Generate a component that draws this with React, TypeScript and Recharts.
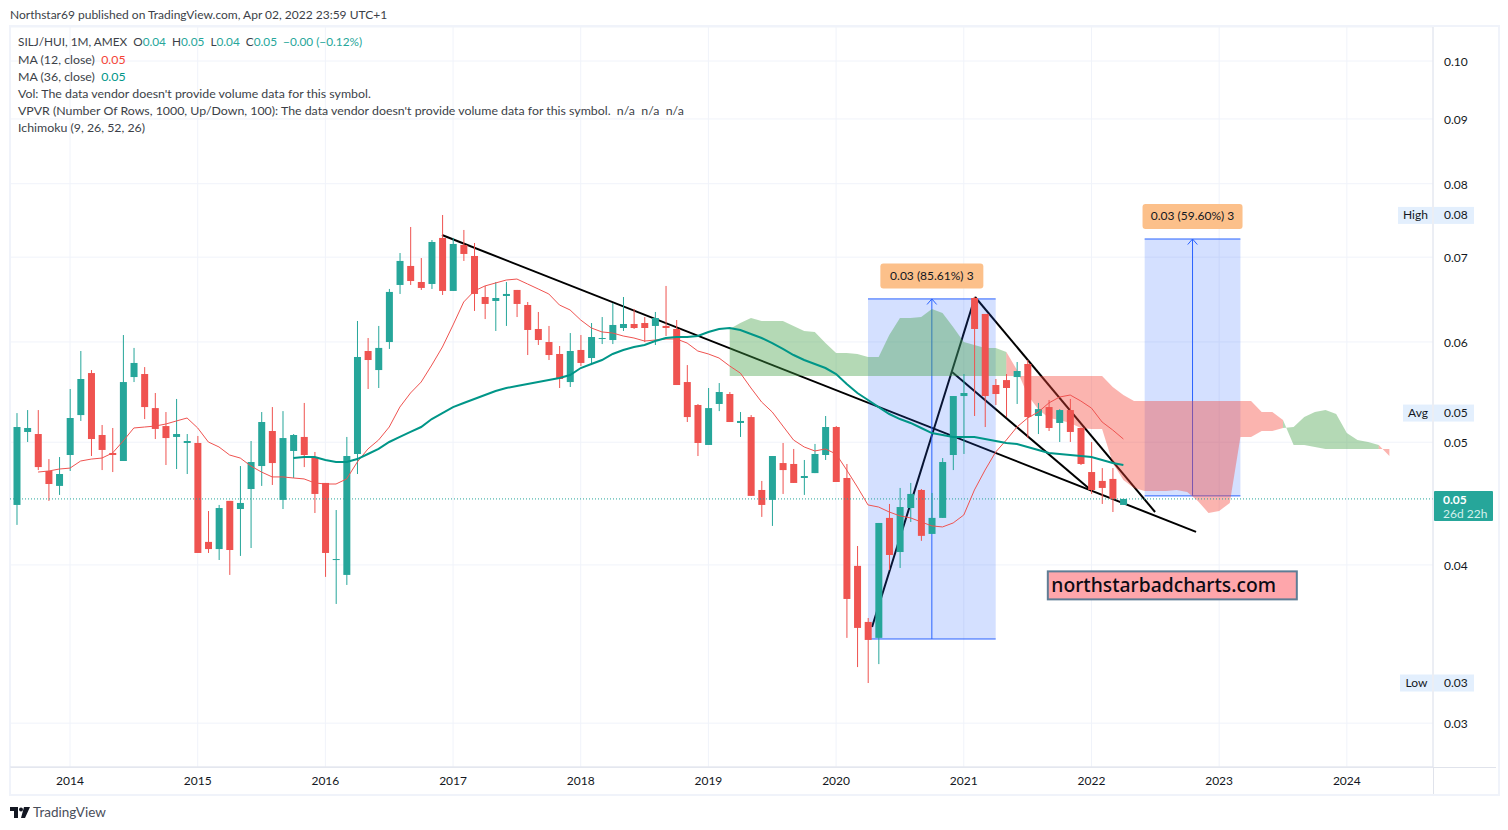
import { Area, Bar, CartesianGrid, ComposedChart, Line, ReferenceArea, ReferenceDot, ReferenceLine, XAxis, YAxis } from 'recharts'

const UP = '#26a69a'
const DOWN = '#ef5350'
const BLUE = '#2962ff'
const TEXT = '#131722'
const UI_FONT = 'Lato, "Noto Sans", sans-serif'

// months counted from Jan 2014; the first candle is Aug 2013
const firstCandle = -5
const highs = [.05272, .05301, .05301, .04849, .04867, .05508, .05902, .05701, .05159, .05131, .06076, .05935, .05732, .05468, .05282, .05409, .05075, .05057, .04412, .04461, .04494, .04788, .05011, .05282, .0533, .05291, .05075, .0537, .04912, .04643, .0442, .05048, .06233, .06043, .06177, .06607, .07053, .07395, .06989, .07222, .07558, .07249, .07355, .07183, .06643, .06691, .06691, .06595, .06452, .06336, .06177, .05956, .06098, .06076, .0621, .06278, .0644, .06511, .06371, .06278, .06336, .06643, .06244, .05753, .0536, .05518, .05568, .05478, .05282, .05253, .0466, .04876, .04993, .04939, .04841, .04984, .05244, .05149, .04806, .0414, .03632, .04317, .04469, .04601, .04643, .04592, .04559, .04858, .05438, .0566, .06511, .06313, .05609, .0566, .05785, .05806, .0537, .05399, .0531, .05409, .05131, .05002, .0477, .0477, .0451]
const lows = [.04302, .05002, .04753, .04494, .04543, .04745, .05197, .04876, .04753, .04736, .04832, .05578, .05215, .05029, .04797, .04762, .04719, .04088, .04088, .04036, .03928, .04066, .04125, .04618, .04626, .04428, .04685, .04779, .04396, .03914, .03726, .03857, .04719, .05508, .05518, .05924, .06547, .06655, .06595, .06607, .06535, .06583, .06952, .06348, .06255, .06121, .06177, .06278, .05859, .05967, .05806, .05518, .05528, .05743, .05753, .05977, .05977, .06121, .06143, .05999, .05967, .06065, .05548, .05187, .04876, .04975, .05291, .05187, .05048, .04535, .04365, .04294, .04551, .04643, .04543, .04727, .04841, .04651, .03503, .03322, .03227, .0334, .03964, .03978, .04325, .04179, .04232, .04357, .04753, .04894, .05244, .0514, .0535, .05234, .0536, .05038, .05075, .05103, .05002, .05002, .04797, .04551, .04469, .04404, .04461]
const opens = [.04461, .05094, .05075, .04745, .04618, .04885, .05253, .0567, .05066, .04903, .04832, .05629, .0566, .0532, .05149, .05048, .04993, .04993, .04171, .04117, .04494, .04428, .04592, .04788, .05103, .04502, .04921, .05048, .04867, .04643, .04036, .03928, .04894, .05902, .05701, .05999, .06655, .06889, .06691, .06667, .07249, .06583, .07157, .07015, .06511, .06464, .06523, .06595, .06417, .06143, .05999, .0587, .05578, .05913, .05827, .06032, .06021, .06154, .06199, .0621, .06177, .06177, .06143, .05578, .0535, .04975, .0536, .05458, .05178, .05234, .04584, .04502, .04814, .04806, .04685, .04727, .04885, .0514, .04685, .03993, .03606, .03503, .04357, .04095, .04436, .04584, .04232, .04357, .04885, .05438, .06499, .06313, .05548, .05598, .05629, .05764, .05244, .0533, .05178, .05301, .05131, .04736, .0466, .04677, .04461]
const closes = [.0514, .05131, .04779, .04634, .04719, .05225, .05609, .05029, .0493, .04885, .05578, .05775, .0533, .05122, .05038, .05075, .05011, .04088, .04117, .04436, .0411, .04477, .04823, .05187, .04814, .05038, .05066, .04885, .04551, .04088, .04043, .04876, .05838, .05806, .05935, .06571, .06952, .06703, .06619, .07196, .06583, .0717, .07041, .06547, .06429, .06499, .06547, .06429, .06132, .06021, .05859, .05609, .05902, .05775, .06054, .06043, .06188, .06199, .06154, .06154, .06267, .06154, .05548, .05234, .04993, .0532, .05478, .05187, .05197, .04535, .04461, .04876, .04753, .04643, .04702, .04894, .0514, .04651, .0376, .03567, .0349, .04317, .04073, .04444, .04551, .04217, .04357, .04823, .05438, .05468, .06143, .05438, .05458, .05518, .05691, .05234, .0531, .05131, .05301, .05094, .04806, .04584, .04601, .0451, .0451]

const ma12Start = -3
const ma12 = [.04736, .04745, .04762, .0477, .04832, .04849, .04858, .04903, .05011, .05131, .0514, .05149, .05168, .05197, .05225, .05131, .05002, .04957, .04885, .04858, .04788, .04736, .04694, .04694, .04685, .04677, .04643, .04634, .04634, .04677, .04823, .04939, .0502, .0514, .0533, .05468, .05578, .05753, .05945, .06188, .06452, .06583, .06643, .06679, .06715, .06727, .06667, .06607, .06547, .06417, .06359, .06244, .06154, .0611, .06098, .06065, .06043, .0601, .06021, .06032, .06032, .05988, .05902, .0587, .05827, .05743, .0567, .05518, .05379, .05282, .05149, .0502, .04957, .04921, .04939, .04894, .04753, .04609, .04461, .04444, .04404, .04373, .04357, .04325, .04294, .04286, .04317, .0438, .04584, .04753, .04912, .0502, .0514, .05225, .05282, .0537, .05428, .05448, .05389, .0532, .05187, .05112, .05029]

const ma36Start = 21
const ma36 = [.04858, .04867, .04867, .04841, .04823, .04823, .04849, .04894, .04939, .05002, .05048, .05094, .0514, .05215, .05272, .0533, .0537, .05409, .05448, .05488, .05518, .05538, .05558, .05578, .05598, .05619, .0565, .05722, .05764, .05806, .0587, .05913, .05945, .05967, .0601, .06043, .06054, .06054, .06065, .0611, .06143, .06154, .06132, .06087, .06043, .05988, .05924, .05859, .05806, .05764, .05722, .0566, .05558, .05468, .05399, .0533, .05263, .05215, .05178, .05131, .05084, .05066, .05048, .05048, .05048, .05029, .05011, .04993, .04984, .04957, .0493, .04903, .04894, .04885, .04876, .04867, .04841, .04814, .04797]

const cloudStart = 62
const spanA = [.06143, .0621, .06267, .06233, .06233, .06233, .06177, .06121, .0611, .05988, .05881, .05881, .0587, .05838, .05838, .06076, .06267, .06267, .06278, .06371, .06325, .06166, .05999, .05967, .05935, .05935, .05892, .05701, .05448, .0531, .05225, .05206, .05178, .05131, .05122, .05122, .04814, .04668, .04601, .04576, .04576, .04576, .04584, .04568, .04494, .04396, .04412, .04477, .05048, .05048, .05103, .05103, .05131, .0514, .05234, .05282, .05301, .05263, .05084, .0502, .05002, .04975, .04876]
const spanB = [.05639, .05639, .05639, .05639, .05639, .05639, .05639, .05639, .05639, .05639, .05639, .05639, .05639, .05639, .05639, .05639, .05639, .05639, .05639, .05639, .05639, .05639, .05639, .05639, .05639, .05639, .05639, .05639, .05639, .05639, .05639, .05639, .05639, .05639, .05639, .05639, .05528, .05448, .05389, .05389, .05389, .05389, .05389, .05389, .05389, .05389, .05389, .05389, .05389, .05389, .05282, .05282, .05206, .04975, .04975, .04957, .04939, .04939, .04939, .04939, .04939, .04939, .04939]
const redCloudMonths = [[88, 114], [123, 124]]

const yearTicks = [0, 12, 24, 36, 48, 60, 72, 84, 96, 108, 120]
const priceTicks = [0.1, 0.09, 0.08, 0.07, 0.06, 0.05, 0.04, 0.03]

const trendLines = [
  [[34.96, .07288], [105.83, .04248]],
  [[75.38, .03573], [85.06, .06511]],
  [[85.06, .06511], [101.98, .04404]],
  [[82.9, .0568], [96.05, .04576]],
]

const measures = [
  { from: 75, to: 87, arrow: 81, low: .03496, high: .06488, label: '0.03 (85.61%) 3', labelPrice: .06765, labelWidth: 103 },
  { from: 101, to: 110, arrow: 105.5, low: .04535, high: .07235, label: '0.03 (59.60%) 3', labelPrice: .07538, labelWidth: 100 },
]

const lastPrice = .0451
const watermark = { month: 103.6, price: .03854, text: 'northstarbadcharts.com' }
const priceTags = [
  { name: 'High', value: '0.08', price: .07552, nameWidth: 35 },
  { name: 'Avg', value: '0.05', price: .05272, nameWidth: 30 },
  { name: 'Low', value: '0.03', price: .03227, nameWidth: 33 },
]

const xDomain = [-5.64, 128.1]
const yDomain = [0.0277, 0.10638]

// stacking order: trend lines and boxes sit under the cloud, candles and averages on top
const Z_TREND = 40
const Z_BOX = 50
const Z_BOX_LINE = 60

const rows = []
for (let m = firstCandle; m <= 124; m++) {
  const i = m - firstCandle
  const c = m - cloudStart
  const hasCandle = i < highs.length
  const inCloud = c >= 0 && c < spanA.length
  const isRed = redCloudMonths.some(([a, b]) => m >= a && m <= b)
  const isGreen = m <= 88 || (m >= 114 && m <= 123)
  rows.push({
    m,
    wick: hasCandle ? [lows[i], highs[i]] : undefined,
    body: hasCandle ? [opens[i], closes[i]] : undefined,
    color: hasCandle ? (closes[i] >= opens[i] ? UP : DOWN) : UP,
    ma12: ma12[m - ma12Start] ?? null,
    ma36: ma36[m - ma36Start] ?? null,
    greenCloud: inCloud && isGreen ? [spanB[c], spanA[c]] : undefined,
    redCloud: inCloud && isRed ? [spanB[c], spanA[c]] : undefined,
  })
}

// red candles come through with a negative height, open being above close
function Candle({ x, y, width, height, payload }: any) {
  const top = Math.min(y, y + height)
  return <rect x={x} y={top} width={width} height={Math.max(Math.abs(height), 1)} fill={payload.color} />
}

function MeasureLabel({ cx, cy, text, width }: any) {
  return (
    <g>
      <rect x={cx - width / 2} y={cy - 12.5} width={width} height={25} rx={3} fill="#fcc08a" />
      <text x={cx} y={cy + 4} textAnchor="middle" fontSize={12} fontFamily={UI_FONT} fill={TEXT}>{text}</text>
    </g>
  )
}

function PriceTag({ cx, cy, name, value, nameWidth }: any) {
  return (
    <g fontFamily={UI_FONT} fontSize={12} fill={TEXT}>
      <rect x={cx - nameWidth} y={cy - 8.5} width={nameWidth - 1} height={17} fill="#e3effd" />
      <rect x={cx + 1} y={cy - 8.5} width={40} height={17} fill="#e3effd" />
      <text x={cx - nameWidth / 2} y={cy + 4} textAnchor="middle">{name}</text>
      <text x={cx + 11} y={cy + 4}>{value}</text>
    </g>
  )
}

function LastPriceTag({ cx, cy }: any) {
  return (
    <g fontFamily={UI_FONT} fontSize={12}>
      <rect x={cx + 1} y={cy - 8} width={59} height={30} rx={1} fill={UP} />
      <text x={cx + 10} y={cy + 5} fill="#fff" fontWeight={700}>0.05</text>
      <text x={cx + 10} y={cy + 19} fill="#d4f0ec">26d 22h</text>
    </g>
  )
}

function Watermark({ cx, cy, text }: any) {
  return (
    <g>
      <rect x={cx - 124.5} y={cy - 14} width={249} height={28} fill="#fea6ab" stroke="#5f7d95" strokeWidth={2} />
      <text x={cx - 121} y={cy + 7} fontSize={19.3} fontWeight={500} fontFamily='"Noto Sans", sans-serif' fill="#0b0b14">{text}</text>
    </g>
  )
}

function Legend() {
  const row = { position: 'absolute', left: 18, whiteSpace: 'pre', lineHeight: '17px' } as const
  return (
    <div style={{ fontFamily: UI_FONT, fontSize: 12.35, color: '#3c3f48' }}>
      <div style={{ ...row, top: 33, fontSize: 11.8 }}>
        SILJ/HUI, 1M, AMEX  O<span style={{ color: UP }}>0.04</span>  H<span style={{ color: UP }}>0.05</span>  L<span style={{ color: UP }}>0.04</span>  C<span style={{ color: UP }}>0.05  −0.00 (−0.12%)</span>
      </div>
      <div style={{ ...row, top: 50.5 }}>MA (12, close)  <span style={{ color: '#f44336' }}>0.05</span></div>
      <div style={{ ...row, top: 67.5 }}>MA (36, close)  <span style={{ color: '#009688' }}>0.05</span></div>
      <div style={{ ...row, top: 84.5 }}>Vol: The data vendor doesn't provide volume data for this symbol.</div>
      <div style={{ ...row, top: 101.5 }}>VPVR (Number Of Rows, 1000, Up/Down, 100): The data vendor doesn't provide volume data for this symbol.  n/a  n/a  n/a</div>
      <div style={{ ...row, top: 118.5 }}>Ichimoku (9, 26, 52, 26)</div>
    </div>
  )
}

export default function App() {
  return (
    <div style={{ position: 'absolute', left: 0, top: 0, width: 1508, height: 830, background: '#fff', overflow: 'hidden' }}>
      <div style={{ position: 'absolute', left: 10, top: 7, fontFamily: UI_FONT, fontSize: 12, color: '#3c3f48', whiteSpace: 'pre' }}>
        Northstar69 published on TradingView.com, Apr 02, 2022 23:59 UTC+1
      </div>
      <div style={{ position: 'absolute', left: 9, top: 25, width: 1487, height: 767, border: '2px solid #f0f3fa' }} />
      <div style={{ position: 'absolute', left: 1433, top: 767, width: 1, height: 27, background: '#e0e3eb' }} />
      <div style={{ position: 'absolute', left: 11, top: 767, width: 1485, height: 1, background: '#e0e3eb' }} />

      <div style={{ position: 'absolute', left: 0, top: 0 }}>
        <ComposedChart width={1508} height={830} data={rows} margin={{ top: 27, right: 10, bottom: 35, left: 10 }}>
          <CartesianGrid xAxisId="main" stroke="#f0f3fa" strokeWidth={1} />
          <XAxis
            xAxisId="main"
            dataKey="m"
            type="number"
            domain={xDomain}
            allowDataOverflow
            ticks={yearTicks}
            tickFormatter={(m: number) => String(2014 + m / 12)}
            height={28}
            tickLine={false}
            axisLine={{ stroke: '#e0e3eb' }}
            tick={{ fontFamily: UI_FONT, fontSize: 12, fill: TEXT }}
            tickMargin={3}
          />
          <XAxis xAxisId="wick" dataKey="m" type="number" domain={xDomain} allowDataOverflow hide />
          <YAxis
            orientation="right"
            scale="log"
            domain={yDomain}
            allowDataOverflow
            ticks={priceTicks}
            tickFormatter={(p: number) => p.toFixed(2)}
            width={65}
            tickLine={false}
            axisLine={{ stroke: '#e0e3eb' }}
            tick={{ fontFamily: UI_FONT, fontSize: 12, fill: TEXT, textAnchor: 'start', dy: 1 }}
            tickMargin={5}
          />

          <Area xAxisId="main" dataKey="greenCloud" stroke="none" fill="#43a047" fillOpacity={0.4} isAnimationActive={false} />
          <Area xAxisId="main" dataKey="redCloud" stroke="none" fill="#f44336" fillOpacity={0.4} isAnimationActive={false} />

          {trendLines.map(([a, b], i) => (
            <ReferenceLine key={i} xAxisId="main" zIndex={Z_TREND} segment={[{ x: a[0], y: a[1] }, { x: b[0], y: b[1] }]} stroke="#000" strokeWidth={2} />
          ))}

          {measures.map((box) => (
            <ReferenceArea key={box.arrow} xAxisId="main" zIndex={Z_BOX} x1={box.from} x2={box.to} y1={box.low} y2={box.high} fill={BLUE} fillOpacity={0.2} stroke="none" />
          ))}
          {measures.flatMap((box) => [
            <ReferenceLine key={`${box.arrow}t`} xAxisId="main" zIndex={Z_BOX_LINE} segment={[{ x: box.from, y: box.high }, { x: box.to, y: box.high }]} stroke={BLUE} strokeWidth={1} />,
            <ReferenceLine key={`${box.arrow}b`} xAxisId="main" zIndex={Z_BOX_LINE} segment={[{ x: box.from, y: box.low }, { x: box.to, y: box.low }]} stroke={BLUE} strokeWidth={1} />,
            <ReferenceLine key={`${box.arrow}v`} xAxisId="main" zIndex={Z_BOX_LINE} segment={[{ x: box.arrow, y: box.low }, { x: box.arrow, y: box.high }]} stroke={BLUE} strokeWidth={1} />,
            <ReferenceLine key={`${box.arrow}l`} xAxisId="main" zIndex={Z_BOX_LINE} segment={[{ x: box.arrow - 0.45, y: box.high * 0.99 }, { x: box.arrow, y: box.high }]} stroke={BLUE} strokeWidth={1} />,
            <ReferenceLine key={`${box.arrow}r`} xAxisId="main" zIndex={Z_BOX_LINE} segment={[{ x: box.arrow + 0.45, y: box.high * 0.99 }, { x: box.arrow, y: box.high }]} stroke={BLUE} strokeWidth={1} />,
          ])}

          <ReferenceLine xAxisId="main" y={lastPrice} stroke={UP} strokeWidth={1} strokeDasharray="1 2" />

          <Bar xAxisId="wick" dataKey="wick" barSize={1} shape={Candle} isAnimationActive={false} />
          <Bar xAxisId="main" dataKey="body" barSize={7} shape={Candle} isAnimationActive={false} />

          <Line xAxisId="main" dataKey="ma12" stroke={DOWN} strokeWidth={1} dot={false} activeDot={false} isAnimationActive={false} />
          <Line xAxisId="main" dataKey="ma36" stroke="#009688" strokeWidth={2} dot={false} activeDot={false} isAnimationActive={false} />

          {measures.map((box) => (
            <ReferenceDot
              key={box.label}
              xAxisId="main"
              x={box.arrow}
              y={box.labelPrice}
              shape={(props: any) => <MeasureLabel {...props} text={box.label} width={box.labelWidth} />}
            />
          ))}
          <ReferenceDot
            xAxisId="main"
            x={watermark.month}
            y={watermark.price}
            shape={(props: any) => <Watermark {...props} text={watermark.text} />}
          />
          {priceTags.map((tag) => (
            <ReferenceDot
              key={tag.name}
              xAxisId="main"
              x={xDomain[1]}
              y={tag.price}
              ifOverflow="visible"
              shape={(props: any) => <PriceTag {...props} name={tag.name} value={tag.value} nameWidth={tag.nameWidth} />}
            />
          ))}
          <ReferenceDot xAxisId="main" x={xDomain[1]} y={lastPrice} ifOverflow="visible" shape={LastPriceTag} />
        </ComposedChart>
      </div>

      <Legend />

      <svg style={{ position: 'absolute', left: 10, top: 807 }} width={20} height={12} viewBox="0 0 20 12">
        <path d="M0 0h8v11H4V4H0z M14 0h6l-5 11h-4z" fill="#131722" />
        <circle cx="11" cy="2.5" r="2" fill="#131722" />
      </svg>
      <div style={{ position: 'absolute', left: 33, top: 804, fontFamily: UI_FONT, fontSize: 13.5, color: '#4a4e5a' }}>TradingView</div>
    </div>
  )
}
